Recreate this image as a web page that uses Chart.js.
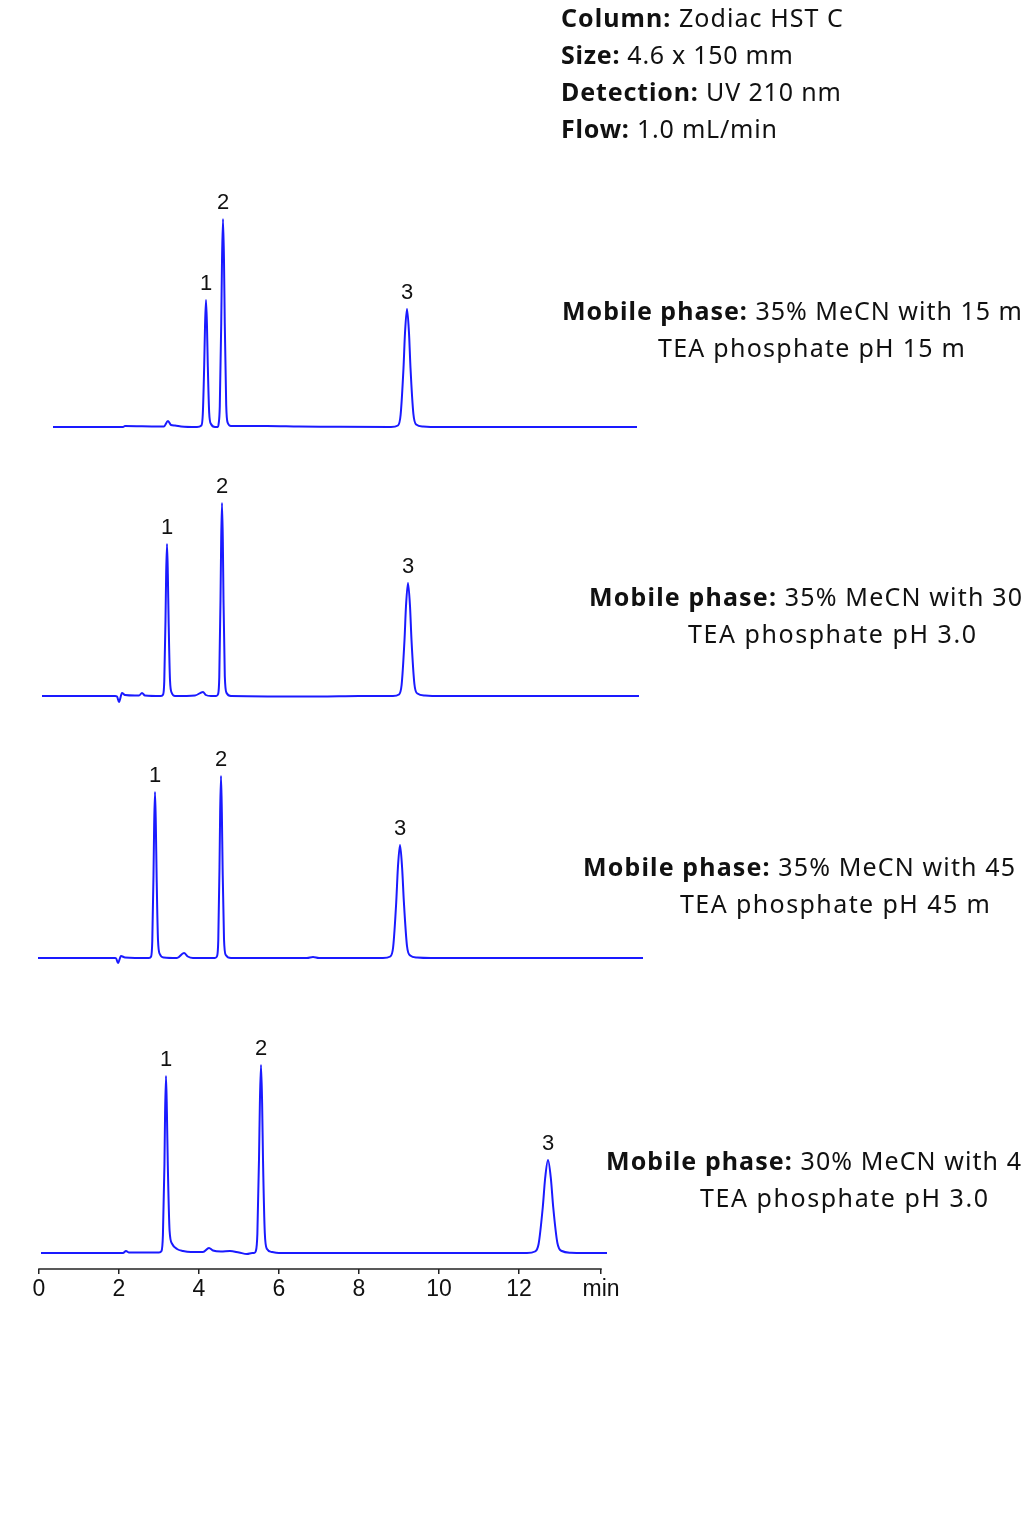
<!DOCTYPE html>
<html><head><meta charset="utf-8">
<script src="https://cdn.jsdelivr.net/npm/chart.js@4.4.1/dist/chart.umd.min.js"></script>
<style>
html,body{margin:0;padding:0;background:#fff;width:1024px;height:1536px;overflow:hidden;}
#wrap{position:relative;width:1024px;height:1536px;overflow:hidden;}
canvas{position:absolute;left:0;top:0;}
.t{position:absolute;white-space:nowrap;font-family:"Noto Sans",sans-serif;font-size:25px;line-height:37px;height:37px;color:#111;}
.t b{font-weight:700;}
</style></head><body>
<div id="wrap"><canvas id="c" width="1024" height="1536"></canvas></div>
<script>
// ---------- data ----------
const xTicks = [0, 2, 4, 6, 8, 10, 12, 14.05];
const xTickLabels = ['0', '2', '4', '6', '8', '10', '12', 'min'];

// signal (above each trace's own baseline) vs time (min)
const trace1 = [
  [0.35,0],[2.1,0],[2.15,1],[3.0,0.5],[3.12,0.5],[3.225,6],[3.3,2],[3.4,1.5],[3.55,0.5],
  [3.95,0],[4.06,1.5],[4.095,13],[4.131,63],[4.15,100],[4.175,127],[4.20,100],[4.219,63],[4.255,14],[4.30,3],[4.40,0],
  [4.47,0],[4.487,2],[4.52,21],[4.556,104],[4.575,166],[4.60,208],[4.625,166],[4.644,104],[4.68,22],[4.72,4],[4.80,1],
  [5.7,1],[6.5,0.5],[7.2,0.3],
  [8.8,0],[8.974,1.5],[9.04,12],[9.1125,59],[9.15,94],[9.20,118],[9.25,94],[9.2875,59],[9.36,13],[9.43,2.5],[9.6,0.5],[10.0,0],
  [14.95,0]
];
const trace2 = [
  [0.075,0],[1.9,0],[1.95,-0.5],[2.0,-6],[2.075,3],[2.15,1],[2.4,0.5],[2.5,0.5],[2.575,3],[2.65,0.5],
  [3.05,0],[3.103,1.5],[3.132,15],[3.1625,76],[3.179,122],[3.20,152],[3.221,122],[3.24,76],[3.275,16],[3.32,3],[3.40,0],
  [3.9,0.5],[4.1,4],[4.17,1],[4.3,0],
  [4.43,0],[4.478,2],[4.507,19],[4.5375,96],[4.554,154],[4.575,193],[4.596,154],[4.6125,96],[4.645,20],[4.69,3],[4.80,0],
  [7.0,-0.5],[8.0,0],
  [8.85,0],[8.999,1.5],[9.065,11],[9.1375,56],[9.175,90],[9.225,113],[9.275,90],[9.3125,56],[9.385,12],[9.46,2.5],[9.65,0.5],[10.0,0],
  [15.0,0]
];
const trace3 = [
  [-0.025,0],[1.9,0],[1.93,-0.5],[1.975,-5],[2.05,2],[2.15,0.5],
  [2.75,0],[2.803,1.5],[2.832,17],[2.8625,83],[2.879,133],[2.90,166],[2.921,133],[2.94,83],[2.975,18],[3.02,4],[3.12,0.5],
  [3.45,0],[3.625,5],[3.72,1.5],[3.85,0],
  [4.40,0],[4.453,2],[4.482,18],[4.5125,91],[4.529,146],[4.55,182],[4.571,146],[4.59,91],[4.625,19],[4.67,3],[4.80,0],
  [6.7,0],[6.85,1],[7.0,0],
  [8.6,0],[8.783,1.5],[8.854,11],[8.931,56],[8.972,90],[9.025,113],[9.078,90],[9.122,56],[9.2,12],[9.28,2.5],[9.45,0.5],[9.8,0],
  [15.1,0]
];
const trace4 = [
  [0.05,0],[2.1,0],[2.175,2],[2.25,0.5],
  [3.0,0.5],[3.063,2],[3.098,18],[3.136,88],[3.152,140],[3.175,177],[3.198,140],[3.22,88],[3.265,22],[3.33,9],[3.45,4],[3.6,2],[3.8,1],
  [4.1,1],[4.25,5],[4.35,2.5],[4.55,1.5],[4.775,2],[5.0,0.5],[5.2,-1],[5.33,0],
  [5.38,0],[5.421,2],[5.459,19],[5.50,94],[5.522,150],[5.55,188],[5.578,150],[5.60,94],[5.645,20],[5.70,4],[5.82,1],[6.0,0],
  [12.2,0],[12.40,1.5],[12.49,9],[12.595,46],[12.652,74],[12.725,93],[12.798,74],[12.855,46],[12.96,10],[13.07,2],[13.3,0.3],[13.6,0],
  [14.2,0]
];
const traceOffsets = [842, 573, 311, 16];

const peakLabels = ['1', '2', '3'];
const peakTimes = [[4.175, 4.60, 9.20], [3.20, 4.575, 9.225], [2.90, 4.55, 9.025], [3.175, 5.55, 12.725]];
const peakHeights = [[127, 208, 118], [152, 193, 113], [166, 182, 113], [177, 188, 93]];

const infoLines = [['Column:', ' Zodiac HST C'], ['Size:', ' 4.6 x 150 mm'], ['Detection:', ' UV 210 nm'], ['Flow:', ' 1.0 mL/min']];
const phaseLines = [
  ['Mobile phase:', ' 35% MeCN with 15 m', 'TEA phosphate pH 15 m'],
  ['Mobile phase:', ' 35% MeCN with 30', 'TEA phosphate pH 3.0'],
  ['Mobile phase:', ' 35% MeCN with 45', 'TEA phosphate pH 45 m'],
  ['Mobile phase:', ' 30% MeCN with 4', 'TEA phosphate pH 3.0']
];

// ---------- text layout ----------
const wrap = document.getElementById('wrap');
function addText(html, left, right, centerY) {
  const d = document.createElement('div');
  d.className = 't';
  d.innerHTML = html;
  d.style.left = left + 'px';
  d.style.top = (centerY - 19) + 'px';
  wrap.appendChild(d);
  const w = d.getBoundingClientRect().width;
  const n = d.textContent.length;
  const ls = ((right - left) - w) / Math.max(1, n - 1);
  d.style.letterSpacing = ls.toFixed(2) + 'px';
}
const infoCenters = [18, 55, 92, 129];
const infoRights = [843, 793, 841, 777];
infoLines.forEach((l, i) => addText('<b>' + l[0] + '</b>' + l[1], 561, infoRights[i], infoCenters[i]));
const phasePos = [[562, 1022, 311, 658, 965, 348], [589, 1022, 597, 688, 976, 634], [583, 1015, 867, 680, 990, 904], [606, 1021, 1161, 700, 988, 1198]];
phaseLines.forEach((l, i) => {
  const p = phasePos[i];
  addText('<b>' + l[0] + '</b>' + l[1], p[0], p[1], p[2]);
  addText(l[2], p[3], p[4], p[5]);
});

// ---------- chart ----------
const traces = [trace1, trace2, trace3, trace4];
const datasets = traces.map((tr, i) => ({
  data: tr.map(([t, s]) => ({ x: t, y: s + traceOffsets[i] })),
  borderColor: '#1a1aff',
  borderWidth: 2,
  pointRadius: 0,
  fill: false,
  cubicInterpolationMode: 'monotone'
}));

const axisLine = {
  id: 'axisLine',
  afterDraw(chart) {
    const ctx = chart.ctx, xs = chart.scales.x, y = chart.chartArea.bottom;
    ctx.save();
    ctx.strokeStyle = '#222';
    ctx.lineWidth = 1.5;
    ctx.beginPath();
    ctx.moveTo(xs.getPixelForValue(xTicks[0]) - 0.75, y);
    ctx.lineTo(xs.getPixelForValue(xTicks[xTicks.length - 1]) + 0.75, y);
    ctx.stroke();
    ctx.restore();
  }
};
const peakLabelPlugin = {
  id: 'peakLabels',
  afterDatasetsDraw(chart) {
    const ctx = chart.ctx, xs = chart.scales.x, ys = chart.scales.y;
    ctx.save();
    ctx.fillStyle = '#111';
    ctx.font = '22px "Liberation Sans", Arial, sans-serif';
    ctx.textAlign = 'center';
    ctx.textBaseline = 'alphabetic';
    peakTimes.forEach((pts, i) => {
      pts.forEach((t, j) => {
        const px = xs.getPixelForValue(t);
        const py = ys.getPixelForValue(peakHeights[i][j] + traceOffsets[i]);
        ctx.fillText(peakLabels[j], px, py - 10);
      });
    });
    ctx.restore();
  }
};

new Chart(document.getElementById('c'), {
  type: 'line',
  data: { datasets },
  options: {
    responsive: false,
    animation: false,
    events: [],
    layout: { padding: { left: 35, right: 377, top: 149, bottom: 227 } },
    plugins: { legend: { display: false }, tooltip: { enabled: false } },
    scales: {
      x: {
        type: 'linear', min: -0.1, max: 15.2,
        afterBuildTicks: s => { s.ticks = xTicks.map(v => ({ value: v })); },
        afterFit: s => { s.height = 40; },
        ticks: {
          callback: (v, i) => xTickLabels[i],
          font: { family: '"Liberation Sans", Arial, sans-serif', size: 23 },
          color: '#111', padding: 2, maxRotation: 0, autoSkip: false
        },
        grid: { drawOnChartArea: false, drawTicks: true, tickLength: 5, color: '#222', lineWidth: 1.5 },
        border: { display: false }
      },
      y: { display: false, min: 0, max: 1120 }
    }
  },
  plugins: [axisLine, peakLabelPlugin]
});
</script>
</body></html>
